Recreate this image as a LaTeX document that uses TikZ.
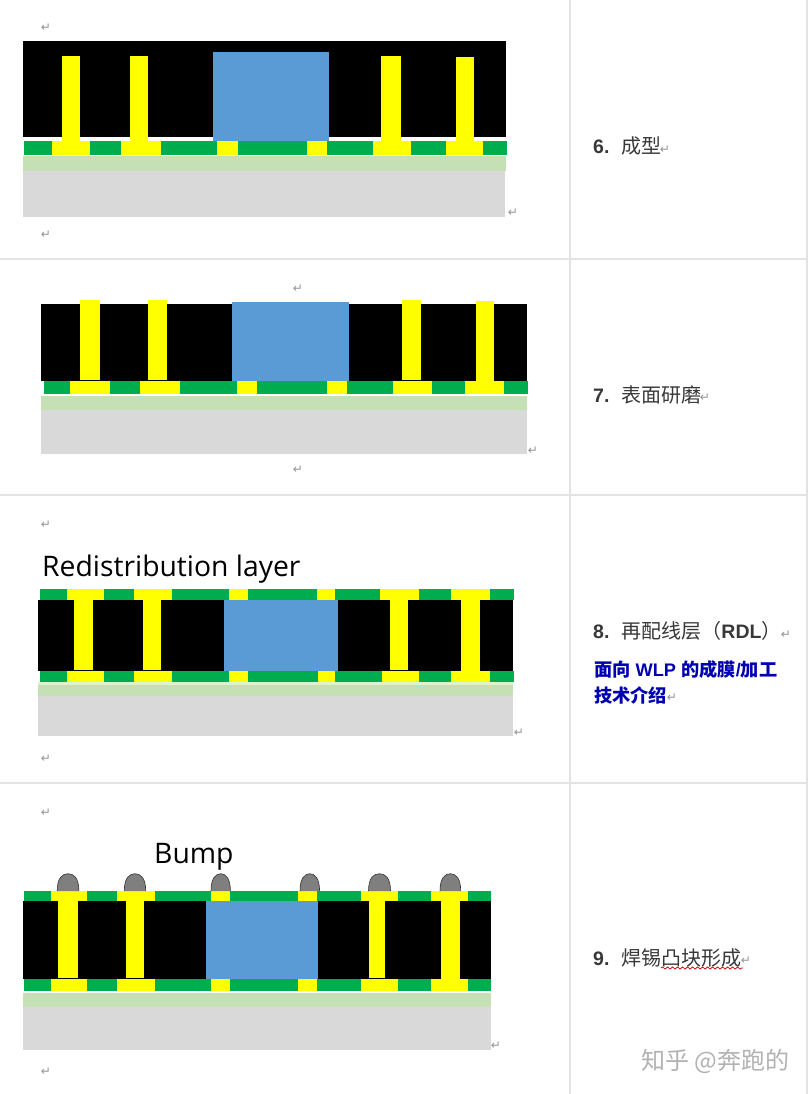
\documentclass[tikz,border=0pt]{standalone}
\usepackage{fontspec}
\usetikzlibrary{decorations.pathmorphing}
\setmainfont{Liberation Sans}
\newfontfamily\cjk{Noto Sans CJK SC}
\newfontfamily\markfont{DejaVu Sans}
\newfontfamily\labelfont{Open Sans}
\definecolor{pkgblue}{HTML}{5B9BD5}
\definecolor{rdlgreen}{HTML}{00AD4E}
\definecolor{palegreen}{HTML}{C5E0B4}
\definecolor{lightgreen}{HTML}{DDF3D0}
\definecolor{carrier}{HTML}{D9D9D9}
\definecolor{rule}{HTML}{E3E3E3}
\definecolor{metal}{HTML}{FFFF00}
\definecolor{bumpgray}{HTML}{7F7F7F}
\newcommand\blk[5]{\fill[#1] (#2,#3) rectangle (#4,#5);}
\newcommand\pads[3]{\foreach \a/\b in {#3}{\fill[metal] (\a,#1) rectangle (\b,#2);}}
\newcommand\pill[3]{\foreach \a/\b/\c/\d in {#3}{\fill[metal] (\a,\c) rectangle (\b,\d);}}
\newcommand\retmark[3]{\node[retstyle] (#1) at (#2,#3) {↵};}
\newcommand\zh[1]{{\cjk\mdseries\fontsize{20}{20}\selectfont #1}}
\tikzset{
  retstyle/.style={inner sep=0pt,text=gray!85,xshift=1pt,yshift=-0.5pt,font=\markfont\fontsize{12}{12}\selectfont},
  stepstyle/.style={anchor=base west,inner sep=0pt,text=black!78,font=\fontsize{19.5}{20}\selectfont\bfseries},
  bluestyle/.style={anchor=base west,inner sep=0pt,text={rgb,255:red,0;green,0;blue,176},font=\fontsize{18.2}{18}\selectfont\bfseries},
  bigstyle/.style={anchor=base west,inner sep=0pt,text=black,font=\labelfont\fontsize{28.3}{28}\selectfont},
  bumpstyle/.style={fill=bumpgray,draw=black!80,line width=0.6pt},
  rulestyle/.style={draw=rule,line width=1.8pt},
  markstyle/.style={anchor=base west,inner sep=0pt,text=black!30,font=\cjk\fontsize{24}{24}\selectfont}
}
\begin{document}
\begin{tikzpicture}[x=1pt,y=-1pt]
\useasboundingbox (0,0) rectangle (810,1094);
\fill[white] (0,0) rectangle (810,1094);
% table rules
\draw[rulestyle] (0,259) -- (806,259);
\draw[rulestyle] (0,495) -- (806,495);
\draw[rulestyle] (0,783) -- (806,783);
\draw[rulestyle] (570,0) -- (570,1094);
\draw[rulestyle] (807,0) -- (807,1094);

% panel 6
\blk{black}{23}{41}{505.5}{137}
\blk{carrier}{23}{171}{505}{217}
\blk{palegreen}{23}{156}{505.5}{171}
\blk{rdlgreen}{24.3}{141}{507}{155}
\pads{141}{155}{51.7/90.2,120.5/160.5,217/238,306.5/326.8,373/410.5,445.6/483.1}
\pill{}{}{61.6/80.2/56/141,129.5/148/56/141,380.5/400.5/56/141,455.6/474.2/57/141}
\blk{pkgblue}{212.8}{52}{329.2}{141}

% panel 7
\blk{black}{41}{303.5}{526.5}{381}
\blk{carrier}{41}{410}{526.5}{453.7}
\blk{palegreen}{41}{396}{526.5}{410}
\blk{rdlgreen}{43.7}{381}{528}{394}
\pads{381}{394}{69.6/109.5,139.8/179.8,236.9/256.9,326.8/347.1,392.9/431.5,465.2/504.1}
\pill{}{}{79.5/99.5/299.7/380,148.4/167.4/299.7/380,401.9/420.8/299.7/380,475.6/494.2/301/381}
\blk{pkgblue}{232}{302}{349.2}{381}

% panel 8
\blk{black}{37.9}{599.7}{513}{670.7}
\blk{carrier}{37.9}{696}{513}{736}
\blk{lightgreen}{37.9}{682}{513}{685}
\blk{palegreen}{37.9}{685}{513}{696}
\blk{rdlgreen}{40.3}{589.3}{514.1}{599.7}
\blk{rdlgreen}{40.3}{670.7}{514.1}{682}
\pads{589.3}{599.7}{66.8/104,134.3/171.5,229/248,316.5/335.4,380.2/419,451.4/490.4}
\pads{670.7}{682}{66.8/104,134.3/171.5,229/248,317.8/335.4,381.5/419,451.4/490.4}
\pill{}{}{74.4/93/599/670,142.6/160.5/599/670,390.2/408/599/670,461.4/480.4/599/671}
\blk{pkgblue}{224.2}{599.7}{337.5}{670.7}
\node[bigstyle] (rdllabel) at (42,576) {Redistribution layer};

% panel 9
\blk{black}{23}{901}{491}{978.7}
\blk{carrier}{23}{1007}{491}{1050}
\blk{palegreen}{23}{993}{491}{1007}
\blk{rdlgreen}{24.1}{891}{491}{901}
\blk{rdlgreen}{24.1}{978.7}{491}{991}
\pads{891}{901}{50.6/87.1,117/154.6,210.7/229.7,297.9/316.8,360.9/398.4,430.8/468.3}
\pads{978.7}{991}{50.6/87.1,117/154.6,210.7/229.7,297.9/316.8,360.9/398.4,430.8/468.3}
\pill{}{}{57.9/77.8/901/978,125.7/144.3/901/978,369.1/384.6/901/978,441.1/460/901/979}
\blk{pkgblue}{205.6}{901}{318.2}{978.7}
\foreach \a/\b in {57.2/78.9,124.3/145.7,211/230.4,300/319.6,368.5/390.5,440/460.7}{
  \draw[bumpstyle] (\a,891) .. controls (\a,878) and ({\a+5},873.7) .. ({(\a+\b)/2},873.7)
     .. controls ({\b-5},873.7) and (\b,878) .. (\b,891);
}
\node[bigstyle] (bumplabel) at (154,863) {Bump};

% right column
\node[stepstyle] (s6) at (593,154) {6.\hspace{12pt}\zh{成型}};
\node[stepstyle] (s7) at (593,402) {7.\hspace{12pt}\zh{表面研磨}};
\node[stepstyle] (s8) at (593,638) {8.\hspace{12pt}\zh{再配线层（}RDL\zh{）}};
\node[bluestyle] (b1) at (594,676) {{\cjk 面向} WLP {\cjk 的成膜}/{\cjk 加工}};
\node[bluestyle] (b2) at (594,702) {\cjk 技术介绍};
\node[stepstyle] (s9) at (593,965) {9.\hspace{12pt}\zh{焊锡凸块形成}};
\draw[red!75!black,line width=0.7pt,decorate,decoration={snake,amplitude=1.1pt,segment length=5pt}] (661,968) -- (743,968);
\node[markstyle] (wm) at (641,1069) {知乎 @奔跑的};

% paragraph marks
\retmark{m1}{45}{27}\retmark{m2}{512}{212}\retmark{m3}{45}{234}
\retmark{m4}{297}{288}\retmark{m5}{532}{450}\retmark{m6}{297}{469}
\retmark{m7}{45}{524}\retmark{m8}{518}{732}\retmark{m9}{45}{758}
\retmark{m10}{45}{812}\retmark{m11}{495}{1045}\retmark{m12}{45}{1071}
\retmark{m13}{664}{149}\retmark{m14}{704}{397}\retmark{m15}{785}{634}
\retmark{m16}{671}{697}\retmark{m17}{745}{960}
\end{tikzpicture}
\end{document}
